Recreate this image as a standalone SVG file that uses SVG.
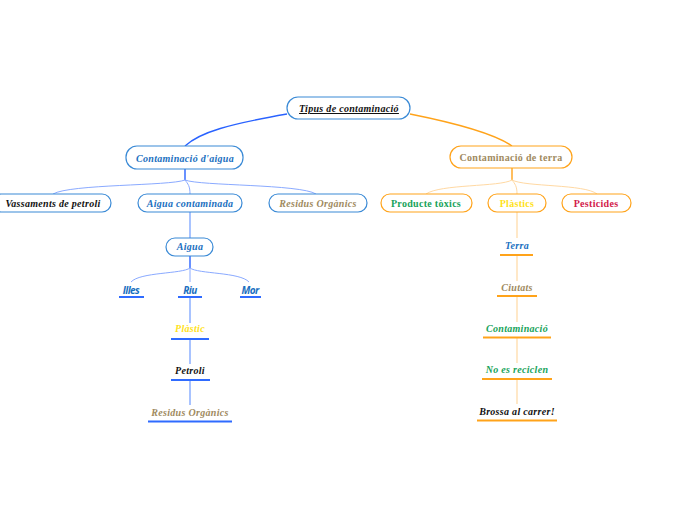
<svg xmlns="http://www.w3.org/2000/svg" width="697" height="520" viewBox="0 0 697 520">
<style>
.t{font-family:"Liberation Serif","DejaVu Serif",serif;font-size:10px;font-weight:bold;text-anchor:middle;letter-spacing:0.3px}
.i{font-style:italic}
.s{font-family:"Open Sans","Liberation Sans",sans-serif;font-size:10px;font-weight:bold;font-style:italic;text-anchor:middle;letter-spacing:-0.6px}
.bb{fill:#fff;stroke:#3a8ad6;stroke-width:1.2}
.ob{fill:#fff;stroke:#ffa31a;stroke-width:1.2}
.ul{stroke:#2f6bff;stroke-width:2}
.uo{stroke:#ffa31a;stroke-width:2}
.blue{fill:#1a6fc0}
.brown{fill:#a08a60}
.blk{fill:#111}
.yel{fill:#ffe21a}
.grn{fill:#17a35a}
.red{fill:#d2204a}
</style>
<rect width="697" height="520" fill="#fff"/>
<g id="connectors" fill="none">
<path d="M287,114 C230,124 200,132 185,146" stroke="#2962ff" stroke-width="1.4"/>
<path d="M410,114 C460,124 495,134 512,146" stroke="#ffa31a" stroke-width="1.4"/>
<path d="M185,169 V180" stroke="#2962ff" stroke-width="1.4"/>
<path d="M185,180 C170,186 70,184 53,194" stroke="#8aaaff" stroke-width="1"/>
<path d="M185,180 C188,184 190,186 190,194" stroke="#8aaaff" stroke-width="1"/>
<path d="M185,180 C200,186 300,184 316,194" stroke="#8aaaff" stroke-width="1"/>
<path d="M190,212 V238" stroke="#6f9cff" stroke-width="1.2"/>
<path d="M190,256 V268" stroke="#2962ff" stroke-width="1.4"/>
<path d="M190,268 C182,274 140,272 131,282" stroke="#8aaaff" stroke-width="1"/>
<path d="M190,268 V282" stroke="#8aaaff" stroke-width="1"/>
<path d="M190,268 C198,274 240,272 249,282" stroke="#8aaaff" stroke-width="1"/>
<path d="M190,297 V323 M190,339 V364 M190,380 V405" stroke="#6f9cff" stroke-width="1.2"/>
<path d="M512,168 V180" stroke="#ffa31a" stroke-width="1.4"/>
<path d="M512,180 C500,187 440,184 426,194" stroke="#ffd9a3" stroke-width="1"/>
<path d="M512,180 C515,184 517,186 517,194" stroke="#ffd9a3" stroke-width="1"/>
<path d="M512,180 C525,187 585,184 597,194" stroke="#ffd9a3" stroke-width="1"/>
<path d="M517,212 V238 M517,255 V281 M517,296 V322 M517,338 V363 M517,379 V404" stroke="#ffd9a3" stroke-width="1.2"/>
</g>
<g id="root"><rect class="bb" x="287" y="97" width="123" height="22" rx="11"/><text class="t i blk" x="349" y="112" text-decoration="underline">Tipus de contaminació</text></g>
<g id="aigua-main"><rect class="bb" x="126" y="146" width="117" height="23" rx="11"/><text class="t i blue" x="185" y="161.5">Contaminació d'aigua</text></g>
<g id="terra-main"><rect class="ob" x="450" y="146" width="122" height="22" rx="11"/><text class="t brown" x="511" y="161" style="font-weight:600">Contaminació de terra</text></g>
<g id="vassaments"><rect class="bb" x="-8" y="194" width="119" height="18" rx="9"/><text class="t i blk" x="53" y="207">Vassaments de petroli</text></g>
<g id="aigua-contaminada"><rect class="bb" x="138" y="194" width="104" height="18" rx="9"/><text class="t i blue" x="190" y="207">Aigua contaminada</text></g>
<g id="residus1"><rect class="bb" x="269" y="194" width="98" height="18" rx="9"/><text class="t i brown" x="318" y="207">Residus Orgànics</text></g>
<g id="aigua"><rect class="bb" x="166" y="238" width="47" height="18" rx="9"/><text class="t i blue" x="190" y="250">Aigua</text></g>
<g id="illes"><text class="s blue" x="131" y="294">Illes</text><line class="ul" x1="119" y1="297" x2="144" y2="297"/></g>
<g id="riu"><text class="s blue" x="190" y="294">Riu</text><line class="ul" x1="178" y1="297" x2="202" y2="297"/></g>
<g id="mor"><text class="s blue" x="250" y="294">Mor</text><line class="ul" x1="240" y1="297" x2="261" y2="297"/></g>
<g id="plastic"><text class="t i yel" x="190" y="332">Plàstic</text><line class="ul" x1="171" y1="339" x2="209" y2="339"/></g>
<g id="petroli"><text class="t i blk" x="190" y="374">Petroli</text><line class="ul" x1="171" y1="380" x2="210" y2="380"/></g>
<g id="residus2"><text class="t i brown" x="190" y="416">Residus Orgànics</text><line class="ul" x1="148" y1="421.5" x2="232" y2="421.5"/></g>
<g id="producte"><rect class="ob" x="381" y="194" width="91" height="18" rx="9"/><text class="t grn" x="426" y="207">Producte tòxics</text></g>
<g id="plastics"><rect class="ob" x="488" y="194" width="58" height="18" rx="9"/><text class="t yel" x="517" y="207">Plàstics</text></g>
<g id="pesticides"><rect class="ob" x="562" y="194" width="69" height="18" rx="9"/><text class="t red" x="596" y="207">Pesticides</text></g>
<g id="terra"><text class="t i blue" x="517" y="249">Terra</text><line class="uo" x1="500" y1="255" x2="533" y2="255"/></g>
<g id="ciutats"><text class="t i brown" x="517" y="291">Ciutats</text><line class="uo" x1="497" y1="296" x2="537" y2="296"/></g>
<g id="contaminacio"><text class="t i grn" x="517" y="332">Contaminació</text><line class="uo" x1="483" y1="337.5" x2="551" y2="337.5"/></g>
<g id="reciclen"><text class="t i grn" x="517" y="373">No es reciclen</text><line class="uo" x1="482" y1="379" x2="552" y2="379"/></g>
<g id="brossa"><text class="t i blk" x="517" y="415">Brossa al carrer!</text><line class="uo" x1="477" y1="420.5" x2="557" y2="420.5"/></g>
</svg>
